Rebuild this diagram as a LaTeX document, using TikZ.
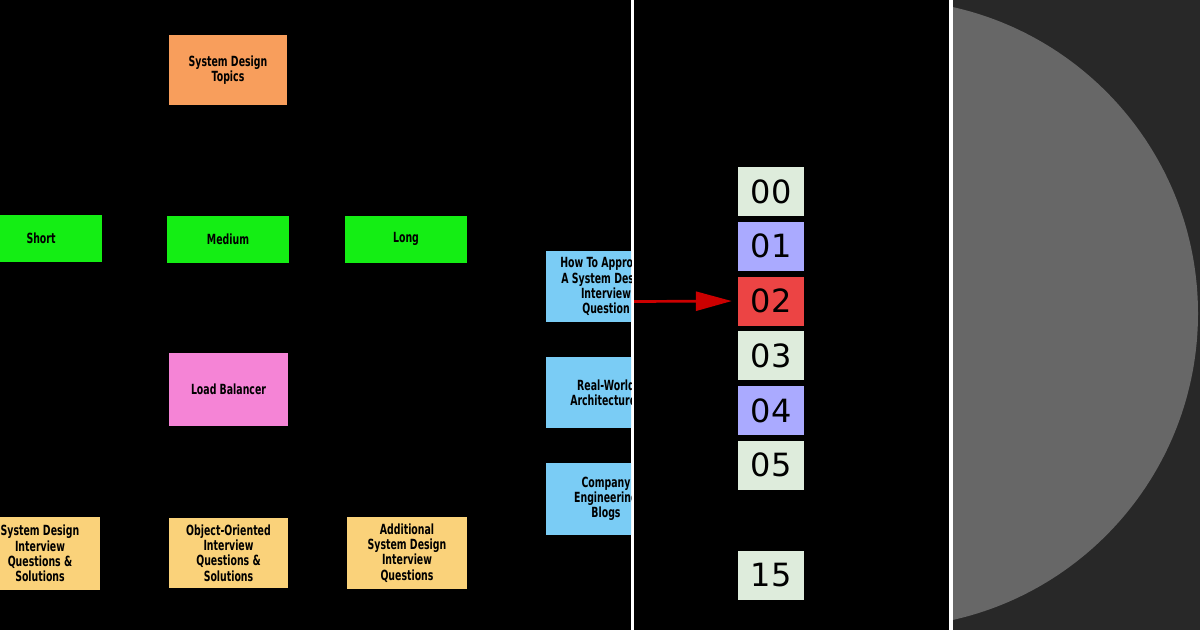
\documentclass[tikz,border=0pt]{standalone}
\usepackage{fontspec}
\newfontfamily\notefont{DejaVu Sans}[FakeStretch=0.67]
\newfontfamily\cellfont{DejaVu Sans}
\usetikzlibrary{arrows.meta}

\definecolor{topicorange}{RGB}{248,158,92}
\definecolor{notegreen}{RGB}{20,238,20}
\definecolor{notepink}{RGB}{245,132,214}
\definecolor{noteblue}{RGB}{122,204,245}
\definecolor{noteyellow}{RGB}{250,210,122}
\definecolor{cellpale}{RGB}{222,236,220}
\definecolor{celllilac}{RGB}{170,170,255}
\definecolor{cellred}{RGB}{236,68,68}
\definecolor{arrowred}{RGB}{204,0,0}
\definecolor{panelgray}{RGB}{40,40,40}
\definecolor{discgray}{RGB}{103,103,103}

\begin{document}
\begin{tikzpicture}[x=1pt, y=-1pt
        , every node/.style={ inner sep=0pt }
        , note/.style={ minimum width=120pt, minimum height=71pt, align=center, text=black,
                        font={\notefont\bfseries\fontsize{14}{15.3}\selectfont} }
        , cell/.style={ minimum width=66pt, minimum height=49pt, text=black,
                        font={\cellfont\fontsize{32}{32}\selectfont} }
        ]
        \useasboundingbox (0,0) rectangle (1200,630);

        % three panels
        \fill[black] (0,0) rectangle (631,630);
        \fill[white] (631,0) rectangle (634,630);
        \fill[black] (634,0) rectangle (949,630);
        \fill[white] (949,0) rectangle (953,630);
        \fill[panelgray] (953,0) rectangle (1200,630);

        \begin{scope}
            \clip (953,0) rectangle (1200,630);
            \fill[discgray] (884,313.5) circle[radius=314];
        \end{scope}

        % sticky notes, cut off at the panel edge
        \begin{scope}
            \clip (0,0) rectangle (631,630);
            \node[note, fill=topicorange, minimum width=118pt, minimum height=70pt] (topics) at (228,70) {System Design\\Topics};

            \node[note, fill=notegreen, minimum width=122pt, minimum height=47pt] (short) at (41,238.5) {Short};
            \node[note, fill=notegreen, minimum width=122pt, minimum height=47pt] (medium) at (228,239.5) {Medium};
            \node[note, fill=notegreen, minimum width=122pt, minimum height=47pt] (long) at (406,239) {Long};

            \node[note, fill=notepink, minimum width=119pt, minimum height=73pt] (balancer) at (228.5,389.5) {Load Balancer};

            \node[note, fill=noteblue] (approach) at (606,286.5) {How To Approach\\A System Design\\Interview\\Question};
            \node[note, fill=noteblue] (realworld) at (606,392.5) {Real-World\\Architectures};
            \node[note, fill=noteblue, minimum height=72pt] (blogs) at (606,499) {Company\\Engineering\\Blogs};

            \node[note, fill=noteyellow, minimum height=73pt] (sdiq) at (40,553.5) {System Design\\Interview\\Questions \&\\Solutions};
            \node[note, fill=noteyellow, minimum width=119pt, minimum height=70pt] (ooiq) at (228.5,553) {Object-Oriented\\Interview\\Questions \&\\Solutions};
            \node[note, fill=noteyellow, minimum height=72pt] (extra) at (407,553) {Additional\\System Design\\Interview\\Questions};
        \end{scope}

        % slots
        \foreach \lbl/\col [count=\i from 0] in {00/cellpale,01/celllilac,02/cellred,03/cellpale,04/celllilac,05/cellpale}
            \node[cell, fill=\col] (n\lbl) at (771,191.5+54.75*\i) {\lbl};
        \node[cell, fill=cellpale] (n15) at (771,575) {15};

        \coordinate (feed) at (634,301.5);
        \draw[arrowred, line width=2.7pt, -{Triangle[length=36pt,width=19pt]}, shorten >=6pt] (feed) -- (n02.west);

    \end{tikzpicture}
\end{document}
